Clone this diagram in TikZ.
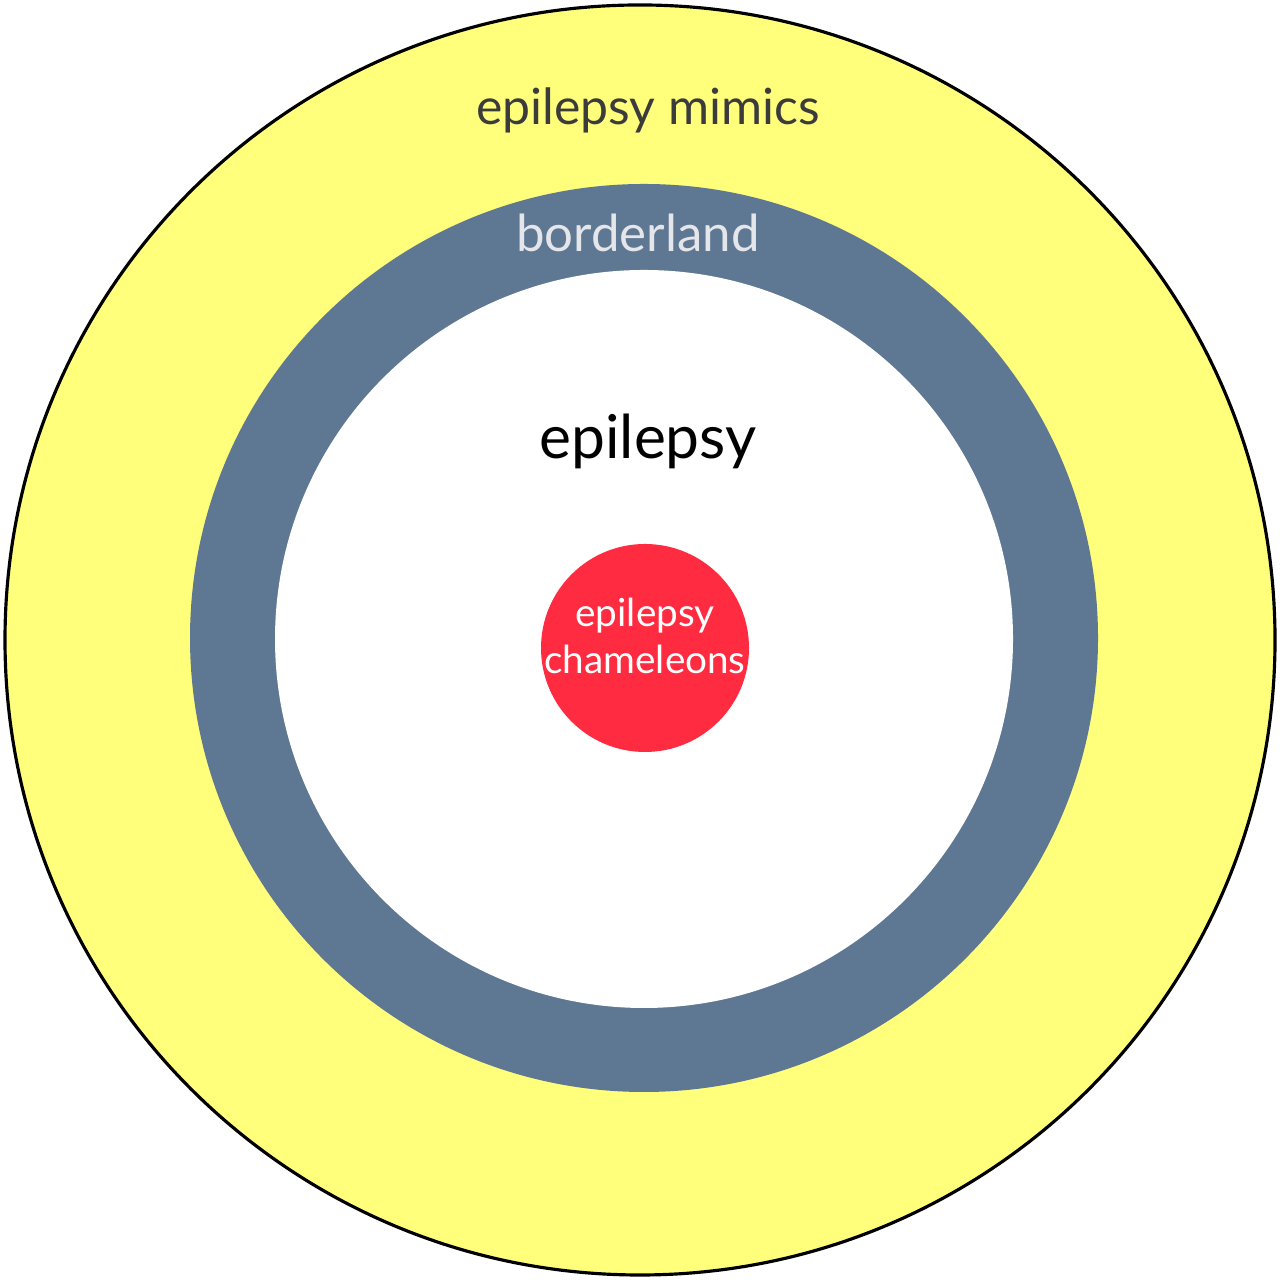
\documentclass[tikz,border=0pt]{standalone}
\usepackage{fontspec}
\setmainfont{Lato}
\usepackage{tikz}
\definecolor{cY}{HTML}{FFFF7C}
\definecolor{cB}{HTML}{5E7792}
\definecolor{cR}{HTML}{FF2B40}
\definecolor{cT}{HTML}{3B3B3B}
\definecolor{cL}{HTML}{E4E6EA}
\tikzset{
  ring/.style={circle,inner sep=0pt,draw=none},
  lbl/.style={inner sep=0pt,align=center},
}

\begin{document}
\begin{tikzpicture}
  \useasboundingbox (0,0) rectangle (12.8,12.8);
  \node[ring,draw=black,line width=0.9pt,fill=cY,minimum size=12.7cm] (mimics) at (6.4,6.4) {};
  \node[ring,fill=cB,minimum size=9.08cm] (border) at (6.44,6.42) {};
  \node[ring,fill=white,minimum size=7.38cm] (epi) at (6.44,6.41) {};
  \node[ring,fill=cR,minimum size=2.08cm] (cham) at (6.45,6.32) {};

  \node[lbl,text=cT,font=\fontsize{14.2}{17}\selectfont] (tmimics) at (6.48,11.70) {epilepsy mimics};
  \node[lbl,text=cL,font=\fontsize{14.5}{17}\selectfont] (tborder) at (6.38,10.47) {borderland};
  \node[lbl,text=black,font=\fontsize{17.2}{20}\selectfont] (tepi) at (6.48,8.39) {epilepsy};
  \node[lbl,text=white,font=\fontsize{11}{13.4}\selectfont] (tcham) at (6.45,6.44) {epilepsy\\chameleons};
\end{tikzpicture}
\end{document}
